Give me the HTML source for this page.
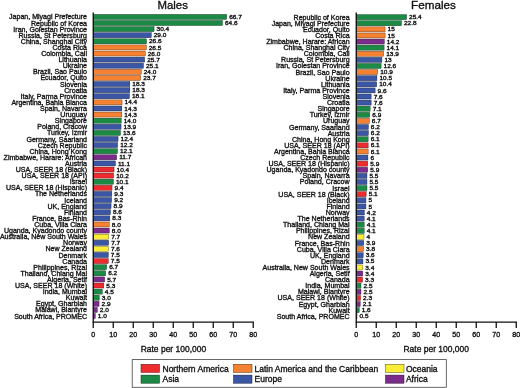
<!DOCTYPE html>
<html><head><meta charset="utf-8"><title>Rates</title>
<style>
html,body{margin:0;padding:0;background:#fff;}
svg{display:block;font-family:"Liberation Sans",Arial,Helvetica,sans-serif;fill:#111;}
text{stroke:#111;stroke-width:0.33px;}
.l{font-size:7.05px;}
.v{font-size:5.95px;stroke-width:0.36px;}
.t{font-size:7.1px;}
.h{font-size:11.4px;}
.r{font-size:8.48px;}
.g{font-size:8.5px;}
</style></head><body>
<svg width="520" height="388" viewBox="0 0 520 388">
<rect width="520" height="388" fill="#fff"/>
<rect x="93.25" y="14.40" width="133.40" height="5.0" fill="#1b8a45" stroke="#082d16" stroke-width="0.4"/>
<text class="l" x="87" y="19.40" text-anchor="end">Japan, Miyagi Prefecture</text>
<text class="v" transform="translate(229.15 19.00) scale(1.09 1)">66.7</text>
<rect x="93.25" y="20.50" width="129.20" height="5.0" fill="#1b8a45" stroke="#082d16" stroke-width="0.4"/>
<text class="l" x="87" y="25.50" text-anchor="end">Republic of Korea</text>
<text class="v" transform="translate(224.95 25.11) scale(1.09 1)">64.6</text>
<rect x="93.25" y="26.61" width="60.80" height="5.0" fill="#1b8a45" stroke="#082d16" stroke-width="0.4"/>
<text class="l" x="87" y="31.61" text-anchor="end">Iran, Golestan Province</text>
<text class="v" transform="translate(156.55 31.21) scale(1.09 1)">30.4</text>
<rect x="93.25" y="32.72" width="58.00" height="5.0" fill="#3a56a5" stroke="#131c36" stroke-width="0.4"/>
<text class="l" x="87" y="37.72" text-anchor="end">Russia, St Petersburg</text>
<text class="v" transform="translate(153.75 37.32) scale(1.09 1)">29.0</text>
<rect x="93.25" y="38.82" width="53.20" height="5.0" fill="#1b8a45" stroke="#082d16" stroke-width="0.4"/>
<text class="l" x="87" y="43.82" text-anchor="end">China, Shanghai City</text>
<text class="v" transform="translate(148.95 43.42) scale(1.09 1)">26.6</text>
<rect x="93.25" y="44.92" width="53.00" height="5.0" fill="#f58232" stroke="#502a10" stroke-width="0.4"/>
<text class="l" x="87" y="49.92" text-anchor="end">Costa Rica</text>
<text class="v" transform="translate(148.75 49.52) scale(1.09 1)">26.5</text>
<rect x="93.25" y="51.03" width="52.00" height="5.0" fill="#f58232" stroke="#502a10" stroke-width="0.4"/>
<text class="l" x="87" y="56.03" text-anchor="end">Colombia, Cali</text>
<text class="v" transform="translate(147.75 55.63) scale(1.09 1)">26.0</text>
<rect x="93.25" y="57.13" width="51.40" height="5.0" fill="#3a56a5" stroke="#131c36" stroke-width="0.4"/>
<text class="l" x="87" y="62.13" text-anchor="end">Lithuania</text>
<text class="v" transform="translate(147.15 61.73) scale(1.09 1)">25.7</text>
<rect x="93.25" y="63.24" width="50.20" height="5.0" fill="#3a56a5" stroke="#131c36" stroke-width="0.4"/>
<text class="l" x="87" y="68.24" text-anchor="end">Ukraine</text>
<text class="v" transform="translate(145.95 67.84) scale(1.09 1)">25.1</text>
<rect x="93.25" y="69.34" width="48.00" height="5.0" fill="#f58232" stroke="#502a10" stroke-width="0.4"/>
<text class="l" x="87" y="74.34" text-anchor="end">Brazil, Sao Paulo</text>
<text class="v" transform="translate(143.75 73.94) scale(1.09 1)">24.0</text>
<rect x="93.25" y="75.45" width="47.40" height="5.0" fill="#f58232" stroke="#502a10" stroke-width="0.4"/>
<text class="l" x="87" y="80.45" text-anchor="end">Ecuador, Quito</text>
<text class="v" transform="translate(143.15 80.05) scale(1.09 1)">23.7</text>
<rect x="93.25" y="81.56" width="36.60" height="5.0" fill="#3a56a5" stroke="#131c36" stroke-width="0.4"/>
<text class="l" x="87" y="86.56" text-anchor="end">Slovenia</text>
<text class="v" transform="translate(132.35 86.16) scale(1.09 1)">18.3</text>
<rect x="93.25" y="87.66" width="36.60" height="5.0" fill="#3a56a5" stroke="#131c36" stroke-width="0.4"/>
<text class="l" x="87" y="92.66" text-anchor="end">Croatia</text>
<text class="v" transform="translate(132.35 92.26) scale(1.09 1)">18.3</text>
<rect x="93.25" y="93.77" width="36.20" height="5.0" fill="#3a56a5" stroke="#131c36" stroke-width="0.4"/>
<text class="l" x="87" y="98.77" text-anchor="end">Italy, Parma Province</text>
<text class="v" transform="translate(131.95 98.37) scale(1.09 1)">18.1</text>
<rect x="93.25" y="99.87" width="28.80" height="5.0" fill="#f58232" stroke="#502a10" stroke-width="0.4"/>
<text class="l" x="87" y="104.87" text-anchor="end">Argentina, Bahia Blanca</text>
<text class="v" transform="translate(124.55 104.47) scale(1.09 1)">14.4</text>
<rect x="93.25" y="105.97" width="28.60" height="5.0" fill="#3a56a5" stroke="#131c36" stroke-width="0.4"/>
<text class="l" x="87" y="110.97" text-anchor="end">Spain, Navarra</text>
<text class="v" transform="translate(124.35 110.57) scale(1.09 1)">14.3</text>
<rect x="93.25" y="112.08" width="28.60" height="5.0" fill="#f58232" stroke="#502a10" stroke-width="0.4"/>
<text class="l" x="87" y="117.08" text-anchor="end">Uruguay</text>
<text class="v" transform="translate(124.35 116.68) scale(1.09 1)">14.3</text>
<rect x="93.25" y="118.19" width="28.00" height="5.0" fill="#1b8a45" stroke="#082d16" stroke-width="0.4"/>
<text class="l" x="87" y="123.19" text-anchor="end">Singapore</text>
<text class="v" transform="translate(123.75 122.78) scale(1.09 1)">14.0</text>
<rect x="93.25" y="124.29" width="27.80" height="5.0" fill="#3a56a5" stroke="#131c36" stroke-width="0.4"/>
<text class="l" x="87" y="129.29" text-anchor="end">Poland, Cracow</text>
<text class="v" transform="translate(123.55 128.89) scale(1.09 1)">13.9</text>
<rect x="93.25" y="130.40" width="27.20" height="5.0" fill="#1b8a45" stroke="#082d16" stroke-width="0.4"/>
<text class="l" x="87" y="135.40" text-anchor="end">Turkey, Izmir</text>
<text class="v" transform="translate(122.95 135.00) scale(1.09 1)">13.6</text>
<rect x="93.25" y="136.50" width="24.80" height="5.0" fill="#3a56a5" stroke="#131c36" stroke-width="0.4"/>
<text class="l" x="87" y="141.50" text-anchor="end">Germany, Saarland</text>
<text class="v" transform="translate(120.55 141.10) scale(1.09 1)">12.4</text>
<rect x="93.25" y="142.61" width="24.40" height="5.0" fill="#3a56a5" stroke="#131c36" stroke-width="0.4"/>
<text class="l" x="87" y="147.61" text-anchor="end">Czech Republic</text>
<text class="v" transform="translate(120.15 147.21) scale(1.09 1)">12.2</text>
<rect x="93.25" y="148.71" width="24.20" height="5.0" fill="#1b8a45" stroke="#082d16" stroke-width="0.4"/>
<text class="l" x="87" y="153.71" text-anchor="end">China, Hong Kong</text>
<text class="v" transform="translate(119.95 153.31) scale(1.09 1)">12.1</text>
<rect x="93.25" y="154.82" width="23.40" height="5.0" fill="#7b2c8a" stroke="#280e2d" stroke-width="0.4"/>
<text class="l" x="87" y="159.82" text-anchor="end">Zimbabwe, Harare: African</text>
<text class="v" transform="translate(119.15 159.42) scale(1.09 1)">11.7</text>
<rect x="93.25" y="160.92" width="22.20" height="5.0" fill="#3a56a5" stroke="#131c36" stroke-width="0.4"/>
<text class="l" x="87" y="165.92" text-anchor="end">Austria</text>
<text class="v" transform="translate(117.95 165.52) scale(1.09 1)">11.1</text>
<rect x="93.25" y="167.03" width="20.80" height="5.0" fill="#ee2b2e" stroke="#4e0e0f" stroke-width="0.4"/>
<text class="l" x="87" y="172.03" text-anchor="end">USA, SEER 18 (Black)</text>
<text class="v" transform="translate(116.55 171.62) scale(1.09 1)">10.4</text>
<rect x="93.25" y="173.13" width="20.40" height="5.0" fill="#ee2b2e" stroke="#4e0e0f" stroke-width="0.4"/>
<text class="l" x="87" y="178.13" text-anchor="end">USA, SEER 18 (API)</text>
<text class="v" transform="translate(116.15 177.73) scale(1.09 1)">10.2</text>
<rect x="93.25" y="179.24" width="20.20" height="5.0" fill="#1b8a45" stroke="#082d16" stroke-width="0.4"/>
<text class="l" x="87" y="184.24" text-anchor="end">Israel</text>
<text class="v" transform="translate(115.95 183.84) scale(1.09 1)">10.1</text>
<rect x="93.25" y="185.34" width="18.80" height="5.0" fill="#ee2b2e" stroke="#4e0e0f" stroke-width="0.4"/>
<text class="l" x="87" y="190.34" text-anchor="end">USA, SEER 18 (Hispanic)</text>
<text class="v" transform="translate(114.55 189.94) scale(1.09 1)">9.4</text>
<rect x="93.25" y="191.45" width="18.60" height="5.0" fill="#3a56a5" stroke="#131c36" stroke-width="0.4"/>
<text class="l" x="87" y="196.45" text-anchor="end">The Netherlands</text>
<text class="v" transform="translate(114.35 196.05) scale(1.09 1)">9.3</text>
<rect x="93.25" y="197.55" width="18.40" height="5.0" fill="#3a56a5" stroke="#131c36" stroke-width="0.4"/>
<text class="l" x="87" y="202.55" text-anchor="end">Iceland</text>
<text class="v" transform="translate(114.15 202.15) scale(1.09 1)">9.2</text>
<rect x="93.25" y="203.66" width="17.80" height="5.0" fill="#3a56a5" stroke="#131c36" stroke-width="0.4"/>
<text class="l" x="87" y="208.66" text-anchor="end">UK, England</text>
<text class="v" transform="translate(113.55 208.26) scale(1.09 1)">8.9</text>
<rect x="93.25" y="209.76" width="17.20" height="5.0" fill="#3a56a5" stroke="#131c36" stroke-width="0.4"/>
<text class="l" x="87" y="214.76" text-anchor="end">Finland</text>
<text class="v" transform="translate(112.95 214.36) scale(1.09 1)">8.6</text>
<rect x="93.25" y="215.87" width="16.60" height="5.0" fill="#3a56a5" stroke="#131c36" stroke-width="0.4"/>
<text class="l" x="87" y="220.87" text-anchor="end">France, Bas-Rhin</text>
<text class="v" transform="translate(112.35 220.47) scale(1.09 1)">8.3</text>
<rect x="93.25" y="221.97" width="16.00" height="5.0" fill="#f58232" stroke="#502a10" stroke-width="0.4"/>
<text class="l" x="87" y="226.97" text-anchor="end">Cuba, Villa Clara</text>
<text class="v" transform="translate(111.75 226.57) scale(1.09 1)">8.0</text>
<rect x="93.25" y="228.08" width="16.00" height="5.0" fill="#7b2c8a" stroke="#280e2d" stroke-width="0.4"/>
<text class="l" x="87" y="233.08" text-anchor="end">Uganda, Kyadondo county</text>
<text class="v" transform="translate(111.75 232.68) scale(1.09 1)">8.0</text>
<rect x="93.25" y="234.18" width="15.40" height="5.0" fill="#fbed36" stroke="#524e11" stroke-width="0.4"/>
<text class="l" x="87" y="239.18" text-anchor="end">Australia, New South Wales</text>
<text class="v" transform="translate(111.15 238.78) scale(1.09 1)">7.7</text>
<rect x="93.25" y="240.29" width="15.40" height="5.0" fill="#3a56a5" stroke="#131c36" stroke-width="0.4"/>
<text class="l" x="87" y="245.29" text-anchor="end">Norway</text>
<text class="v" transform="translate(111.15 244.89) scale(1.09 1)">7.7</text>
<rect x="93.25" y="246.39" width="15.20" height="5.0" fill="#fbed36" stroke="#524e11" stroke-width="0.4"/>
<text class="l" x="87" y="251.39" text-anchor="end">New Zealand</text>
<text class="v" transform="translate(110.95 250.99) scale(1.09 1)">7.6</text>
<rect x="93.25" y="252.50" width="15.00" height="5.0" fill="#3a56a5" stroke="#131c36" stroke-width="0.4"/>
<text class="l" x="87" y="257.50" text-anchor="end">Denmark</text>
<text class="v" transform="translate(110.75 257.10) scale(1.09 1)">7.5</text>
<rect x="93.25" y="258.60" width="15.00" height="5.0" fill="#ee2b2e" stroke="#4e0e0f" stroke-width="0.4"/>
<text class="l" x="87" y="263.60" text-anchor="end">Canada</text>
<text class="v" transform="translate(110.75 263.20) scale(1.09 1)">7.5</text>
<rect x="93.25" y="264.70" width="13.40" height="5.0" fill="#1b8a45" stroke="#082d16" stroke-width="0.4"/>
<text class="l" x="87" y="269.70" text-anchor="end">Philippines, Rizal</text>
<text class="v" transform="translate(109.15 269.31) scale(1.09 1)">6.7</text>
<rect x="93.25" y="270.81" width="12.40" height="5.0" fill="#1b8a45" stroke="#082d16" stroke-width="0.4"/>
<text class="l" x="87" y="275.81" text-anchor="end">Thailand, Chiang Mai</text>
<text class="v" transform="translate(108.15 275.41) scale(1.09 1)">6.2</text>
<rect x="93.25" y="276.92" width="11.40" height="5.0" fill="#7b2c8a" stroke="#280e2d" stroke-width="0.4"/>
<text class="l" x="87" y="281.92" text-anchor="end">Algeria, Setif</text>
<text class="v" transform="translate(107.15 281.52) scale(1.09 1)">5.7</text>
<rect x="93.25" y="283.02" width="10.60" height="5.0" fill="#ee2b2e" stroke="#4e0e0f" stroke-width="0.4"/>
<text class="l" x="87" y="288.02" text-anchor="end">USA, SEER 18 (White)</text>
<text class="v" transform="translate(106.35 287.62) scale(1.09 1)">5.3</text>
<rect x="93.25" y="289.12" width="9.00" height="5.0" fill="#1b8a45" stroke="#082d16" stroke-width="0.4"/>
<text class="l" x="87" y="294.12" text-anchor="end">India, Mumbai</text>
<text class="v" transform="translate(104.75 293.73) scale(1.09 1)">4.5</text>
<rect x="93.25" y="295.23" width="6.00" height="5.0" fill="#1b8a45" stroke="#082d16" stroke-width="0.4"/>
<text class="l" x="87" y="300.23" text-anchor="end">Kuwait</text>
<text class="v" transform="translate(101.75 299.83) scale(1.09 1)">3.0</text>
<rect x="93.25" y="301.33" width="5.80" height="5.0" fill="#7b2c8a" stroke="#280e2d" stroke-width="0.4"/>
<text class="l" x="87" y="306.33" text-anchor="end">Egypt, Gharbiah</text>
<text class="v" transform="translate(101.55 305.94) scale(1.09 1)">2.9</text>
<rect x="93.25" y="307.44" width="4.00" height="5.0" fill="#7b2c8a" stroke="#280e2d" stroke-width="0.4"/>
<text class="l" x="87" y="312.44" text-anchor="end">Malawi, Blantyre</text>
<text class="v" transform="translate(99.75 312.04) scale(1.09 1)">2.0</text>
<rect x="93.25" y="313.55" width="2.00" height="5.0" fill="#7b2c8a" stroke="#280e2d" stroke-width="0.4"/>
<text class="l" x="87" y="318.55" text-anchor="end">South Africa, PROMEC</text>
<text class="v" transform="translate(97.75 318.15) scale(1.09 1)">1.0</text>
<path d="M93.25 12.5V322.1H253.9" fill="none" stroke="#111" stroke-width="1.35"/>
<path d="M93.25 322.1V328.1" stroke="#111" stroke-width="1.3"/>
<text class="t" x="93.25" y="337.40000000000003" text-anchor="middle">0</text>
<path d="M113.25 322.1V328.1" stroke="#111" stroke-width="1.3"/>
<text class="t" x="113.25" y="337.40000000000003" text-anchor="middle">10</text>
<path d="M133.25 322.1V328.1" stroke="#111" stroke-width="1.3"/>
<text class="t" x="133.25" y="337.40000000000003" text-anchor="middle">20</text>
<path d="M153.25 322.1V328.1" stroke="#111" stroke-width="1.3"/>
<text class="t" x="153.25" y="337.40000000000003" text-anchor="middle">30</text>
<path d="M173.25 322.1V328.1" stroke="#111" stroke-width="1.3"/>
<text class="t" x="173.25" y="337.40000000000003" text-anchor="middle">40</text>
<path d="M193.25 322.1V328.1" stroke="#111" stroke-width="1.3"/>
<text class="t" x="193.25" y="337.40000000000003" text-anchor="middle">50</text>
<path d="M213.25 322.1V328.1" stroke="#111" stroke-width="1.3"/>
<text class="t" x="213.25" y="337.40000000000003" text-anchor="middle">60</text>
<path d="M233.25 322.1V328.1" stroke="#111" stroke-width="1.3"/>
<text class="t" x="233.25" y="337.40000000000003" text-anchor="middle">70</text>
<path d="M253.25 322.1V328.1" stroke="#111" stroke-width="1.3"/>
<text class="t" x="253.25" y="337.40000000000003" text-anchor="middle">80</text>
<text class="h" style="font-size:11.4px" x="172.7" y="9.2" text-anchor="middle">Males</text>
<rect x="356.25" y="14.65" width="50.35" height="5.0" fill="#1b8a45" stroke="#082d16" stroke-width="0.4"/>
<text class="l" x="349.6" y="19.65" text-anchor="end">Republic of Korea</text>
<text class="v" transform="translate(409.10 19.25) scale(1.09 1)">25.4</text>
<rect x="356.25" y="20.75" width="45.17" height="5.0" fill="#1b8a45" stroke="#082d16" stroke-width="0.4"/>
<text class="l" x="349.6" y="25.75" text-anchor="end">Japan, Miyagi Prefecture</text>
<text class="v" transform="translate(403.92 25.36) scale(1.09 1)">22.8</text>
<rect x="356.25" y="26.86" width="28.83" height="5.0" fill="#f58232" stroke="#502a10" stroke-width="0.4"/>
<text class="l" x="349.6" y="31.86" text-anchor="end">Ecuador, Quito</text>
<text class="v" transform="translate(387.58 31.46) scale(1.09 1)">15</text>
<rect x="356.25" y="32.97" width="28.83" height="5.0" fill="#f58232" stroke="#502a10" stroke-width="0.4"/>
<text class="l" x="349.6" y="37.97" text-anchor="end">Costa Rica</text>
<text class="v" transform="translate(387.58 37.57) scale(1.09 1)">15</text>
<rect x="356.25" y="39.07" width="28.04" height="5.0" fill="#7b2c8a" stroke="#280e2d" stroke-width="0.4"/>
<text class="l" x="349.6" y="44.07" text-anchor="end">Zimbabwe, Harare: African</text>
<text class="v" transform="translate(386.79 43.67) scale(1.09 1)">14.2</text>
<rect x="356.25" y="45.17" width="27.84" height="5.0" fill="#1b8a45" stroke="#082d16" stroke-width="0.4"/>
<text class="l" x="349.6" y="50.17" text-anchor="end">China, Shanghai City</text>
<text class="v" transform="translate(386.59 49.77) scale(1.09 1)">14.1</text>
<rect x="356.25" y="51.28" width="27.44" height="5.0" fill="#f58232" stroke="#502a10" stroke-width="0.4"/>
<text class="l" x="349.6" y="56.28" text-anchor="end">Colombia, Cali</text>
<text class="v" transform="translate(386.19 55.88) scale(1.09 1)">13.9</text>
<rect x="356.25" y="57.38" width="25.65" height="5.0" fill="#3a56a5" stroke="#131c36" stroke-width="0.4"/>
<text class="l" x="349.6" y="62.38" text-anchor="end">Russia, St Petersburg</text>
<text class="v" transform="translate(384.40 61.98) scale(1.09 1)">13</text>
<rect x="356.25" y="63.49" width="24.85" height="5.0" fill="#1b8a45" stroke="#082d16" stroke-width="0.4"/>
<text class="l" x="349.6" y="68.49" text-anchor="end">Iran, Golestan Province</text>
<text class="v" transform="translate(383.60 68.09) scale(1.09 1)">12.6</text>
<rect x="356.25" y="69.59" width="21.46" height="5.0" fill="#f58232" stroke="#502a10" stroke-width="0.4"/>
<text class="l" x="349.6" y="74.59" text-anchor="end">Brazil, Sao Paulo</text>
<text class="v" transform="translate(380.21 74.19) scale(1.09 1)">10.9</text>
<rect x="356.25" y="75.70" width="20.67" height="5.0" fill="#3a56a5" stroke="#131c36" stroke-width="0.4"/>
<text class="l" x="349.6" y="80.70" text-anchor="end">Ukraine</text>
<text class="v" transform="translate(379.42 80.30) scale(1.09 1)">10.5</text>
<rect x="356.25" y="81.81" width="20.47" height="5.0" fill="#3a56a5" stroke="#131c36" stroke-width="0.4"/>
<text class="l" x="349.6" y="86.81" text-anchor="end">Lithuania</text>
<text class="v" transform="translate(379.22 86.41) scale(1.09 1)">10.4</text>
<rect x="356.25" y="87.91" width="18.87" height="5.0" fill="#3a56a5" stroke="#131c36" stroke-width="0.4"/>
<text class="l" x="349.6" y="92.91" text-anchor="end">Italy, Parma Province</text>
<text class="v" transform="translate(377.62 92.51) scale(1.09 1)">9.6</text>
<rect x="356.25" y="94.02" width="14.89" height="5.0" fill="#3a56a5" stroke="#131c36" stroke-width="0.4"/>
<text class="l" x="349.6" y="99.02" text-anchor="end">Slovenia</text>
<text class="v" transform="translate(373.64 98.62) scale(1.09 1)">7.6</text>
<rect x="356.25" y="100.12" width="14.89" height="5.0" fill="#3a56a5" stroke="#131c36" stroke-width="0.4"/>
<text class="l" x="349.6" y="105.12" text-anchor="end">Croatia</text>
<text class="v" transform="translate(373.64 104.72) scale(1.09 1)">7.6</text>
<rect x="356.25" y="106.22" width="13.89" height="5.0" fill="#1b8a45" stroke="#082d16" stroke-width="0.4"/>
<text class="l" x="349.6" y="111.22" text-anchor="end">Singapore</text>
<text class="v" transform="translate(372.64 110.82) scale(1.09 1)">7.1</text>
<rect x="356.25" y="112.33" width="13.49" height="5.0" fill="#1b8a45" stroke="#082d16" stroke-width="0.4"/>
<text class="l" x="349.6" y="117.33" text-anchor="end">Turkey, Izmir</text>
<text class="v" transform="translate(372.24 116.93) scale(1.09 1)">6.9</text>
<rect x="356.25" y="118.44" width="13.10" height="5.0" fill="#f58232" stroke="#502a10" stroke-width="0.4"/>
<text class="l" x="349.6" y="123.44" text-anchor="end">Uruguay</text>
<text class="v" transform="translate(371.85 123.03) scale(1.09 1)">6.7</text>
<rect x="356.25" y="124.54" width="12.10" height="5.0" fill="#3a56a5" stroke="#131c36" stroke-width="0.4"/>
<text class="l" x="349.6" y="129.54" text-anchor="end">Germany, Saarland</text>
<text class="v" transform="translate(370.85 129.14) scale(1.09 1)">6.2</text>
<rect x="356.25" y="130.65" width="12.10" height="5.0" fill="#3a56a5" stroke="#131c36" stroke-width="0.4"/>
<text class="l" x="349.6" y="135.65" text-anchor="end">Austria</text>
<text class="v" transform="translate(370.85 135.25) scale(1.09 1)">6.2</text>
<rect x="356.25" y="136.75" width="11.90" height="5.0" fill="#1b8a45" stroke="#082d16" stroke-width="0.4"/>
<text class="l" x="349.6" y="141.75" text-anchor="end">China, Hong Kong</text>
<text class="v" transform="translate(370.65 141.35) scale(1.09 1)">6.1</text>
<rect x="356.25" y="142.86" width="11.90" height="5.0" fill="#ee2b2e" stroke="#4e0e0f" stroke-width="0.4"/>
<text class="l" x="349.6" y="147.86" text-anchor="end">USA, SEER 18 (API)</text>
<text class="v" transform="translate(370.65 147.46) scale(1.09 1)">6.1</text>
<rect x="356.25" y="148.96" width="11.90" height="5.0" fill="#f58232" stroke="#502a10" stroke-width="0.4"/>
<text class="l" x="349.6" y="153.96" text-anchor="end">Argentina, Bahia Blanca</text>
<text class="v" transform="translate(370.65 153.56) scale(1.09 1)">6.1</text>
<rect x="356.25" y="155.07" width="11.70" height="5.0" fill="#3a56a5" stroke="#131c36" stroke-width="0.4"/>
<text class="l" x="349.6" y="160.07" text-anchor="end">Czech Republic</text>
<text class="v" transform="translate(370.45 159.67) scale(1.09 1)">6</text>
<rect x="356.25" y="161.17" width="11.50" height="5.0" fill="#ee2b2e" stroke="#4e0e0f" stroke-width="0.4"/>
<text class="l" x="349.6" y="166.17" text-anchor="end">USA, SEER 18 (Hispanic)</text>
<text class="v" transform="translate(370.25 165.77) scale(1.09 1)">5.9</text>
<rect x="356.25" y="167.28" width="11.50" height="5.0" fill="#7b2c8a" stroke="#280e2d" stroke-width="0.4"/>
<text class="l" x="349.6" y="172.28" text-anchor="end">Uganda, Kyadondo county</text>
<text class="v" transform="translate(370.25 171.88) scale(1.09 1)">5.9</text>
<rect x="356.25" y="173.38" width="10.71" height="5.0" fill="#3a56a5" stroke="#131c36" stroke-width="0.4"/>
<text class="l" x="349.6" y="178.38" text-anchor="end">Spain, Navarra</text>
<text class="v" transform="translate(369.46 177.98) scale(1.09 1)">5.5</text>
<rect x="356.25" y="179.49" width="10.71" height="5.0" fill="#3a56a5" stroke="#131c36" stroke-width="0.4"/>
<text class="l" x="349.6" y="184.49" text-anchor="end">Poland, Cracow</text>
<text class="v" transform="translate(369.46 184.09) scale(1.09 1)">5.5</text>
<rect x="356.25" y="185.59" width="10.71" height="5.0" fill="#1b8a45" stroke="#082d16" stroke-width="0.4"/>
<text class="l" x="349.6" y="190.59" text-anchor="end">Israel</text>
<text class="v" transform="translate(369.46 190.19) scale(1.09 1)">5.5</text>
<rect x="356.25" y="191.70" width="9.91" height="5.0" fill="#ee2b2e" stroke="#4e0e0f" stroke-width="0.4"/>
<text class="l" x="349.6" y="196.70" text-anchor="end">USA, SEER 18 (Black)</text>
<text class="v" transform="translate(368.66 196.30) scale(1.09 1)">5.1</text>
<rect x="356.25" y="197.80" width="9.71" height="5.0" fill="#3a56a5" stroke="#131c36" stroke-width="0.4"/>
<text class="l" x="349.6" y="202.80" text-anchor="end">Iceland</text>
<text class="v" transform="translate(368.46 202.40) scale(1.09 1)">5</text>
<rect x="356.25" y="203.91" width="9.71" height="5.0" fill="#3a56a5" stroke="#131c36" stroke-width="0.4"/>
<text class="l" x="349.6" y="208.91" text-anchor="end">Finland</text>
<text class="v" transform="translate(368.46 208.51) scale(1.09 1)">5</text>
<rect x="356.25" y="210.01" width="8.12" height="5.0" fill="#3a56a5" stroke="#131c36" stroke-width="0.4"/>
<text class="l" x="349.6" y="215.01" text-anchor="end">Norway</text>
<text class="v" transform="translate(366.87 214.61) scale(1.09 1)">4.2</text>
<rect x="356.25" y="216.12" width="7.92" height="5.0" fill="#3a56a5" stroke="#131c36" stroke-width="0.4"/>
<text class="l" x="349.6" y="221.12" text-anchor="end">The Netherlands</text>
<text class="v" transform="translate(366.67 220.72) scale(1.09 1)">4.1</text>
<rect x="356.25" y="222.22" width="7.92" height="5.0" fill="#1b8a45" stroke="#082d16" stroke-width="0.4"/>
<text class="l" x="349.6" y="227.22" text-anchor="end">Thailand, Chiang Mai</text>
<text class="v" transform="translate(366.67 226.82) scale(1.09 1)">4.1</text>
<rect x="356.25" y="228.33" width="7.92" height="5.0" fill="#1b8a45" stroke="#082d16" stroke-width="0.4"/>
<text class="l" x="349.6" y="233.33" text-anchor="end">Philippines, Rizal</text>
<text class="v" transform="translate(366.67 232.93) scale(1.09 1)">4.1</text>
<rect x="356.25" y="234.43" width="7.72" height="5.0" fill="#fbed36" stroke="#524e11" stroke-width="0.4"/>
<text class="l" x="349.6" y="239.43" text-anchor="end">New Zealand</text>
<text class="v" transform="translate(366.47 239.03) scale(1.09 1)">4</text>
<rect x="356.25" y="240.54" width="7.52" height="5.0" fill="#3a56a5" stroke="#131c36" stroke-width="0.4"/>
<text class="l" x="349.6" y="245.54" text-anchor="end">France, Bas-Rhin</text>
<text class="v" transform="translate(366.27 245.14) scale(1.09 1)">3.9</text>
<rect x="356.25" y="246.64" width="7.32" height="5.0" fill="#f58232" stroke="#502a10" stroke-width="0.4"/>
<text class="l" x="349.6" y="251.64" text-anchor="end">Cuba, Villa Clara</text>
<text class="v" transform="translate(366.07 251.24) scale(1.09 1)">3.8</text>
<rect x="356.25" y="252.75" width="6.92" height="5.0" fill="#3a56a5" stroke="#131c36" stroke-width="0.4"/>
<text class="l" x="349.6" y="257.75" text-anchor="end">UK, England</text>
<text class="v" transform="translate(365.67 257.35) scale(1.09 1)">3.6</text>
<rect x="356.25" y="258.85" width="6.72" height="5.0" fill="#3a56a5" stroke="#131c36" stroke-width="0.4"/>
<text class="l" x="349.6" y="263.85" text-anchor="end">Denmark</text>
<text class="v" transform="translate(365.47 263.45) scale(1.09 1)">3.5</text>
<rect x="356.25" y="264.95" width="6.52" height="5.0" fill="#fbed36" stroke="#524e11" stroke-width="0.4"/>
<text class="l" x="349.6" y="269.95" text-anchor="end">Australia, New South Wales</text>
<text class="v" transform="translate(365.27 269.56) scale(1.09 1)">3.4</text>
<rect x="356.25" y="271.06" width="6.52" height="5.0" fill="#7b2c8a" stroke="#280e2d" stroke-width="0.4"/>
<text class="l" x="349.6" y="276.06" text-anchor="end">Algeria, Setif</text>
<text class="v" transform="translate(365.27 275.66) scale(1.09 1)">3.4</text>
<rect x="356.25" y="277.17" width="6.32" height="5.0" fill="#ee2b2e" stroke="#4e0e0f" stroke-width="0.4"/>
<text class="l" x="349.6" y="282.17" text-anchor="end">Canada</text>
<text class="v" transform="translate(365.07 281.77) scale(1.09 1)">3.3</text>
<rect x="356.25" y="283.27" width="4.73" height="5.0" fill="#1b8a45" stroke="#082d16" stroke-width="0.4"/>
<text class="l" x="349.6" y="288.27" text-anchor="end">India, Mumbai</text>
<text class="v" transform="translate(363.48 287.87) scale(1.09 1)">2.5</text>
<rect x="356.25" y="289.38" width="4.73" height="5.0" fill="#7b2c8a" stroke="#280e2d" stroke-width="0.4"/>
<text class="l" x="349.6" y="294.38" text-anchor="end">Malawi, Blantyre</text>
<text class="v" transform="translate(363.48 293.98) scale(1.09 1)">2.5</text>
<rect x="356.25" y="295.48" width="4.33" height="5.0" fill="#ee2b2e" stroke="#4e0e0f" stroke-width="0.4"/>
<text class="l" x="349.6" y="300.48" text-anchor="end">USA, SEER 18 (White)</text>
<text class="v" transform="translate(363.08 300.08) scale(1.09 1)">2.3</text>
<rect x="356.25" y="301.58" width="3.93" height="5.0" fill="#7b2c8a" stroke="#280e2d" stroke-width="0.4"/>
<text class="l" x="349.6" y="306.58" text-anchor="end">Egypt, Gharbiah</text>
<text class="v" transform="translate(362.68 306.19) scale(1.09 1)">2.1</text>
<rect x="356.25" y="307.69" width="2.94" height="5.0" fill="#1b8a45" stroke="#082d16" stroke-width="0.4"/>
<text class="l" x="349.6" y="312.69" text-anchor="end">Kuwait</text>
<text class="v" transform="translate(361.69 312.29) scale(1.09 1)">1.6</text>
<rect x="356.25" y="313.80" width="0.75" height="5.0" fill="#7b2c8a" stroke="#280e2d" stroke-width="0.4"/>
<text class="l" x="349.6" y="318.80" text-anchor="end">South Africa, PROMEC</text>
<text class="v" transform="translate(359.50 318.40) scale(1.09 1)">0.5</text>
<path d="M356.25 12.5V322.1H516.9" fill="none" stroke="#111" stroke-width="1.35"/>
<path d="M356.25 322.1V328.1" stroke="#111" stroke-width="1.3"/>
<text class="t" x="356.25" y="337.40000000000003" text-anchor="middle">0</text>
<path d="M376.25 322.1V328.1" stroke="#111" stroke-width="1.3"/>
<text class="t" x="376.25" y="337.40000000000003" text-anchor="middle">10</text>
<path d="M396.25 322.1V328.1" stroke="#111" stroke-width="1.3"/>
<text class="t" x="396.25" y="337.40000000000003" text-anchor="middle">20</text>
<path d="M416.25 322.1V328.1" stroke="#111" stroke-width="1.3"/>
<text class="t" x="416.25" y="337.40000000000003" text-anchor="middle">30</text>
<path d="M436.25 322.1V328.1" stroke="#111" stroke-width="1.3"/>
<text class="t" x="436.25" y="337.40000000000003" text-anchor="middle">40</text>
<path d="M456.25 322.1V328.1" stroke="#111" stroke-width="1.3"/>
<text class="t" x="456.25" y="337.40000000000003" text-anchor="middle">50</text>
<path d="M476.25 322.1V328.1" stroke="#111" stroke-width="1.3"/>
<text class="t" x="476.25" y="337.40000000000003" text-anchor="middle">60</text>
<path d="M496.25 322.1V328.1" stroke="#111" stroke-width="1.3"/>
<text class="t" x="496.25" y="337.40000000000003" text-anchor="middle">70</text>
<path d="M516.25 322.1V328.1" stroke="#111" stroke-width="1.3"/>
<text class="t" x="516.25" y="337.40000000000003" text-anchor="middle">80</text>
<text class="h" style="font-size:11.7px" x="433.5" y="9.2" text-anchor="middle">Females</text>
<text class="r" x="140.7" y="352.0">Rate per 100,000</text>
<text class="r" x="403.5" y="351.9">Rate per 100,000</text>
<rect x="132.2" y="359.6" width="314.1" height="27.7" fill="#fff" stroke="#444" stroke-width="0.8"/>
<rect x="141.0" y="364.3" width="18.5" height="8.1" fill="#ee2b2e" stroke="#4e0e0f" stroke-width="0.5"/><text class="g" x="162.5" y="371.8">Northern America</text>
<rect x="141.0" y="375.1" width="18.5" height="8.1" fill="#1b8a45" stroke="#082d16" stroke-width="0.5"/><text class="g" x="162.5" y="382.3">Asia</text>
<rect x="233.5" y="364.3" width="18.5" height="8.1" fill="#f58232" stroke="#502a10" stroke-width="0.5"/><text class="g" x="254.5" y="371.8">Latin America and the Caribbean</text>
<rect x="233.5" y="375.1" width="18.5" height="8.1" fill="#3a56a5" stroke="#131c36" stroke-width="0.5"/><text class="g" x="254.5" y="382.3">Europe</text>
<rect x="385.5" y="364.3" width="18.5" height="8.1" fill="#fbed36" stroke="#524e11" stroke-width="0.5"/><text class="g" x="405.9" y="371.8">Oceania</text>
<rect x="385.5" y="375.1" width="18.5" height="8.1" fill="#7b2c8a" stroke="#280e2d" stroke-width="0.5"/><text class="g" x="405.9" y="382.3">Africa</text>
</svg>
</body></html>
